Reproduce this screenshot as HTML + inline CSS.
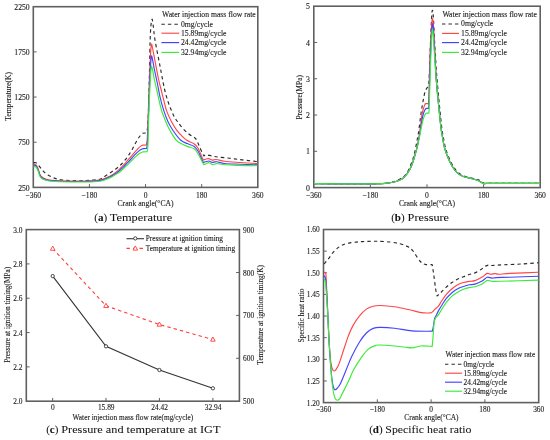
<!DOCTYPE html>
<html><head><meta charset="utf-8"><style>
html,body{margin:0;padding:0;background:#fff;}
svg{display:block;will-change:transform;filter:blur(0.3px);}
text{font-family:"Liberation Serif",serif;stroke:#222;stroke-width:0.14px;}
</style></head><body>
<svg width="550" height="440" viewBox="0 0 550 440">
<rect width="550" height="440" fill="#fff"/>
<rect x="33.3" y="6.7" width="224.5" height="180.70000000000002" fill="none" stroke="#606060" stroke-width="1.6"/>
<g transform="translate(29.70,190.50) scale(0.25)"><text x="0" y="0" font-size="30.80" text-anchor="end" fill="#222" style="stroke-width:0.44px" >250</text></g>
<line x1="33.3" y1="142.22" x2="36.599999999999994" y2="142.22" stroke="#606060" stroke-width="1"/>
<g transform="translate(29.70,145.32) scale(0.25)"><text x="0" y="0" font-size="30.80" text-anchor="end" fill="#222" style="stroke-width:0.44px" >750</text></g>
<line x1="33.3" y1="97.05" x2="36.599999999999994" y2="97.05" stroke="#606060" stroke-width="1"/>
<g transform="translate(29.70,100.15) scale(0.25)"><text x="0" y="0" font-size="30.80" text-anchor="end" fill="#222" style="stroke-width:0.44px" >1250</text></g>
<line x1="33.3" y1="51.88" x2="36.599999999999994" y2="51.88" stroke="#606060" stroke-width="1"/>
<g transform="translate(29.70,54.98) scale(0.25)"><text x="0" y="0" font-size="30.80" text-anchor="end" fill="#222" style="stroke-width:0.44px" >1750</text></g>
<g transform="translate(29.70,9.80) scale(0.25)"><text x="0" y="0" font-size="30.80" text-anchor="end" fill="#222" style="stroke-width:0.44px" >2250</text></g>
<g transform="translate(33.30,198.00) scale(0.25)"><text x="0" y="0" font-size="30.40" text-anchor="middle" fill="#222" style="stroke-width:0.44px" >−360</text></g>
<line x1="89.42" y1="187.4" x2="89.42" y2="184.1" stroke="#606060" stroke-width="1"/>
<g transform="translate(89.42,198.00) scale(0.25)"><text x="0" y="0" font-size="30.40" text-anchor="middle" fill="#222" style="stroke-width:0.44px" >−180</text></g>
<line x1="145.55" y1="187.4" x2="145.55" y2="184.1" stroke="#606060" stroke-width="1"/>
<g transform="translate(145.55,198.00) scale(0.25)"><text x="0" y="0" font-size="30.40" text-anchor="middle" fill="#222" style="stroke-width:0.44px" >0</text></g>
<line x1="201.68" y1="187.4" x2="201.68" y2="184.1" stroke="#606060" stroke-width="1"/>
<g transform="translate(201.68,198.00) scale(0.25)"><text x="0" y="0" font-size="30.40" text-anchor="middle" fill="#222" style="stroke-width:0.44px" >180</text></g>
<g transform="translate(257.80,198.00) scale(0.25)"><text x="0" y="0" font-size="30.40" text-anchor="middle" fill="#222" style="stroke-width:0.44px" >360</text></g>
<g transform="translate(145.55,206.00) scale(0.25)"><text x="0" y="0" font-size="30.80" text-anchor="middle" fill="#222" style="stroke-width:0.44px" >Crank angle(°CA)</text></g>
<g transform="translate(11.00,96.40) rotate(-90) scale(0.25)"><text x="0" y="0" font-size="30.40" text-anchor="middle" fill="#222" style="stroke-width:0.44px">Temperature(K)</text></g>
<path d="M33.50,162.60 C33.92,162.63 35.17,162.37 36.00,162.80 C36.83,163.23 37.33,163.87 38.50,165.20 C39.67,166.53 41.42,169.17 43.00,170.80 C44.58,172.43 46.00,173.73 48.00,175.00 C50.00,176.27 52.67,177.57 55.00,178.40 C57.33,179.23 59.17,179.63 62.00,180.00 C64.83,180.37 68.17,180.50 72.00,180.60 C75.83,180.70 80.33,180.83 85.00,180.60 C89.67,180.37 96.67,179.93 100.00,179.20 C103.33,178.47 103.10,177.40 105.00,176.20 C106.90,175.00 109.65,173.17 111.40,172.00 C113.15,170.83 114.13,170.22 115.50,169.20 C116.87,168.18 118.35,167.03 119.60,165.90 C120.85,164.77 121.87,163.65 123.00,162.40 C124.13,161.15 125.40,159.70 126.40,158.40 C127.40,157.10 128.10,155.97 129.00,154.60 C129.90,153.23 130.88,151.80 131.80,150.20 C132.72,148.60 133.58,146.70 134.50,145.00 C135.42,143.30 136.38,141.50 137.30,140.00 C138.22,138.50 139.10,137.13 140.00,136.00 C140.90,134.87 142.25,133.67 142.70,133.20 L146.00,133.00 C146.25,132.17 147.08,131.83 147.50,128.00 C147.92,124.17 148.20,118.00 148.50,110.00 C148.80,102.00 149.05,90.83 149.30,80.00 C149.55,69.17 149.75,53.83 150.00,45.00 C150.25,36.17 150.47,31.28 150.80,27.00 C151.13,22.72 151.63,19.80 152.00,19.30 C152.37,18.80 152.50,20.55 153.00,24.00 C153.50,27.45 153.83,33.00 155.00,40.00 C156.17,47.00 158.42,57.83 160.00,66.00 C161.58,74.17 163.17,83.08 164.50,89.00 C165.83,94.92 166.92,98.08 168.00,101.50 C169.08,104.92 170.00,107.05 171.00,109.50 C172.00,111.95 172.95,114.23 174.00,116.20 C175.05,118.17 175.85,119.28 177.30,121.30 C178.75,123.32 180.67,126.10 182.70,128.30 C184.73,130.50 187.37,132.80 189.50,134.50 C191.63,136.20 193.92,136.67 195.50,138.50 C197.08,140.33 197.83,143.00 199.00,145.50 C200.17,148.00 201.67,151.75 202.50,153.50 C203.33,155.25 203.75,155.58 204.00,156.00 C204.37,155.80 204.87,154.80 206.20,154.80 C207.53,154.80 209.93,155.62 212.00,156.00 C214.07,156.38 215.52,156.72 218.60,157.10 C221.68,157.48 226.55,157.83 230.50,158.30 C234.45,158.77 237.80,159.35 242.30,159.90 C246.80,160.45 254.97,161.32 257.50,161.60" fill="none" stroke="#2a2a2a" stroke-width="1.15" stroke-linejoin="round" stroke-dasharray="3.4 3.1"/>
<path d="M33.50,164.00 C33.92,164.17 35.25,164.25 36.00,165.00 C36.75,165.75 37.33,166.92 38.00,168.50 C38.67,170.08 39.33,173.08 40.00,174.50 C40.67,175.92 41.17,176.28 42.00,177.00 C42.83,177.72 43.67,178.30 45.00,178.80 C46.33,179.30 47.50,179.68 50.00,180.00 C52.50,180.32 54.17,180.53 60.00,180.70 C65.83,180.87 78.33,181.10 85.00,181.00 C91.67,180.90 96.07,180.80 100.00,180.10 C103.93,179.40 106.43,177.75 108.60,176.80 C110.77,175.85 111.40,175.47 113.00,174.40 C114.60,173.33 116.70,171.70 118.20,170.40 C119.70,169.10 120.63,168.03 122.00,166.60 C123.37,165.17 125.07,163.30 126.40,161.80 C127.73,160.30 128.63,159.18 130.00,157.60 C131.37,156.02 133.27,153.80 134.60,152.30 C135.93,150.80 137.02,149.58 138.00,148.60 C138.98,147.62 139.67,146.98 140.50,146.40 C141.33,145.82 142.58,145.32 143.00,145.10 L146.40,144.90 C146.55,143.75 147.00,142.98 147.30,138.00 C147.60,133.02 147.85,124.67 148.20,115.00 C148.55,105.33 149.02,90.00 149.40,80.00 C149.78,70.00 150.17,60.95 150.50,55.00 C150.83,49.05 151.07,45.47 151.40,44.30 C151.73,43.13 151.90,45.22 152.50,48.00 C153.10,50.78 153.98,55.75 155.00,61.00 C156.02,66.25 157.57,74.67 158.60,79.50 C159.63,84.33 160.30,86.38 161.20,90.00 C162.10,93.62 163.07,97.63 164.00,101.20 C164.93,104.77 165.57,108.02 166.80,111.40 C168.03,114.78 169.70,118.30 171.40,121.50 C173.10,124.70 175.07,128.02 177.00,130.60 C178.93,133.18 181.28,135.33 183.00,137.00 C184.72,138.67 185.53,139.50 187.30,140.60 C189.07,141.70 191.88,142.45 193.60,143.60 C195.32,144.75 196.45,145.85 197.60,147.50 C198.75,149.15 199.68,151.67 200.50,153.50 C201.32,155.33 201.98,157.42 202.50,158.50 C203.02,159.58 203.42,159.75 203.60,160.00 C203.92,159.88 204.67,159.53 205.50,159.30 C206.33,159.07 207.50,158.47 208.60,158.60 C209.70,158.73 210.82,159.95 212.10,160.10 C213.38,160.25 214.22,159.30 216.30,159.50 C218.38,159.70 220.65,160.80 224.60,161.30 C228.55,161.80 234.52,162.12 240.00,162.50 C245.48,162.88 254.58,163.42 257.50,163.60" fill="none" stroke="#ff4646" stroke-width="1.15" stroke-linejoin="round"/>
<path d="M33.50,165.00 C33.92,165.17 35.25,165.25 36.00,166.00 C36.75,166.75 37.33,167.92 38.00,169.50 C38.67,171.08 39.25,174.05 40.00,175.50 C40.75,176.95 41.50,177.48 42.50,178.20 C43.50,178.92 44.75,179.40 46.00,179.80 C47.25,180.20 47.67,180.37 50.00,180.60 C52.33,180.83 54.17,181.05 60.00,181.20 C65.83,181.35 78.33,181.60 85.00,181.50 C91.67,181.40 96.07,181.27 100.00,180.60 C103.93,179.93 106.35,178.43 108.60,177.50 C110.85,176.57 111.80,176.03 113.50,175.00 C115.20,173.97 117.25,172.53 118.80,171.30 C120.35,170.07 121.43,168.95 122.80,167.60 C124.17,166.25 125.63,164.63 127.00,163.20 C128.37,161.77 129.63,160.47 131.00,159.00 C132.37,157.53 133.87,155.75 135.20,154.40 C136.53,153.05 137.87,151.80 139.00,150.90 C140.13,150.00 141.17,149.38 142.00,149.00 C142.83,148.62 143.67,148.67 144.00,148.60 L146.60,148.50 C146.75,147.42 147.20,147.08 147.50,142.00 C147.80,136.92 148.05,127.50 148.40,118.00 C148.75,108.50 149.23,93.83 149.60,85.00 C149.97,76.17 150.30,69.83 150.60,65.00 C150.90,60.17 151.10,57.00 151.40,56.00 C151.70,55.00 151.88,56.67 152.40,59.00 C152.92,61.33 153.65,65.83 154.50,70.00 C155.35,74.17 156.58,79.53 157.50,84.00 C158.42,88.47 159.02,92.58 160.00,96.80 C160.98,101.02 162.07,105.13 163.40,109.30 C164.73,113.47 166.40,118.27 168.00,121.80 C169.60,125.33 170.92,127.47 173.00,130.50 C175.08,133.53 178.12,137.82 180.50,140.00 C182.88,142.18 185.05,142.55 187.30,143.60 C189.55,144.65 192.22,145.07 194.00,146.30 C195.78,147.53 196.83,149.13 198.00,151.00 C199.17,152.87 200.08,155.58 201.00,157.50 C201.92,159.42 203.08,161.67 203.50,162.50 C203.83,162.38 204.58,162.05 205.50,161.80 C206.42,161.55 207.85,160.90 209.00,161.00 C210.15,161.10 211.13,162.28 212.40,162.40 C213.67,162.52 214.57,161.52 216.60,161.70 C218.63,161.88 220.70,163.08 224.60,163.50 C228.50,163.92 234.52,163.98 240.00,164.20 C245.48,164.42 254.58,164.70 257.50,164.80" fill="none" stroke="#4444ff" stroke-width="1.15" stroke-linejoin="round"/>
<path d="M33.50,166.20 C33.92,166.37 35.25,166.48 36.00,167.20 C36.75,167.92 37.33,168.95 38.00,170.50 C38.67,172.05 39.17,175.03 40.00,176.50 C40.83,177.97 41.33,178.55 43.00,179.30 C44.67,180.05 47.17,180.60 50.00,181.00 C52.83,181.40 54.17,181.53 60.00,181.70 C65.83,181.87 78.33,182.08 85.00,182.00 C91.67,181.92 96.07,181.80 100.00,181.20 C103.93,180.60 106.27,179.33 108.60,178.40 C110.93,177.47 112.17,176.65 114.00,175.60 C115.83,174.55 118.02,173.28 119.60,172.10 C121.18,170.92 122.15,169.75 123.50,168.50 C124.85,167.25 126.32,165.93 127.70,164.60 C129.08,163.27 130.43,161.87 131.80,160.50 C133.17,159.13 134.77,157.48 135.90,156.40 C137.03,155.32 137.68,154.67 138.60,154.00 C139.52,153.33 140.67,152.75 141.40,152.40 C142.13,152.05 142.73,151.98 143.00,151.90 L147.00,151.80 C147.15,150.83 147.63,151.30 147.90,146.00 C148.17,140.70 148.28,129.33 148.60,120.00 C148.92,110.67 149.45,97.67 149.80,90.00 C150.15,82.33 150.43,77.93 150.70,74.00 C150.97,70.07 151.12,67.23 151.40,66.40 C151.68,65.57 151.88,66.73 152.40,69.00 C152.92,71.27 153.73,76.33 154.50,80.00 C155.27,83.67 156.08,86.92 157.00,91.00 C157.92,95.08 159.12,100.88 160.00,104.50 C160.88,108.12 161.17,109.45 162.30,112.70 C163.43,115.95 165.52,121.03 166.80,124.00 C168.08,126.97 168.48,127.87 170.00,130.50 C171.52,133.13 174.07,137.63 175.90,139.80 C177.73,141.97 179.10,142.40 181.00,143.50 C182.90,144.60 185.05,145.48 187.30,146.40 C189.55,147.32 192.55,147.48 194.50,149.00 C196.45,150.52 197.75,153.42 199.00,155.50 C200.25,157.58 201.20,159.98 202.00,161.50 C202.80,163.02 203.50,164.08 203.80,164.60 C204.17,164.47 205.13,164.12 206.00,163.80 C206.87,163.48 207.88,162.57 209.00,162.70 C210.12,162.83 211.38,164.45 212.70,164.60 C214.02,164.75 214.85,163.57 216.90,163.60 C218.95,163.63 221.15,164.50 225.00,164.80 C228.85,165.10 234.58,165.23 240.00,165.40 C245.42,165.57 254.58,165.73 257.50,165.80" fill="none" stroke="#38ec38" stroke-width="1.15" stroke-linejoin="round"/>
<g transform="translate(162.00,17.30) scale(0.25)"><text x="0" y="0" font-size="30.80" text-anchor="start" fill="#222" style="stroke-width:0.44px" >Water injection mass flow rate</text></g>
<line x1="161.4" y1="24.2" x2="179.2" y2="24.2" stroke="#2a2a2a" stroke-width="1.15" stroke-dasharray="3.4 3.1"/>
<g transform="translate(181.00,26.50) scale(0.25)"><text x="0" y="0" font-size="30.80" text-anchor="start" fill="#222" style="stroke-width:0.44px" >0mg/cycle</text></g>
<line x1="161.4" y1="33.2" x2="179.2" y2="33.2" stroke="#ff4646" stroke-width="1.15"/>
<g transform="translate(181.00,35.50) scale(0.25)"><text x="0" y="0" font-size="30.80" text-anchor="start" fill="#222" style="stroke-width:0.44px" >15.89mg/cycle</text></g>
<line x1="161.4" y1="42.6" x2="179.2" y2="42.6" stroke="#4444ff" stroke-width="1.15"/>
<g transform="translate(181.00,44.90) scale(0.25)"><text x="0" y="0" font-size="30.80" text-anchor="start" fill="#222" style="stroke-width:0.44px" >24.42mg/cycle</text></g>
<line x1="161.4" y1="52.4" x2="179.2" y2="52.4" stroke="#38ec38" stroke-width="1.15"/>
<g transform="translate(181.00,54.70) scale(0.25)"><text x="0" y="0" font-size="30.80" text-anchor="start" fill="#222" style="stroke-width:0.44px" >32.94mg/cycle</text></g>
<rect x="313.8" y="6.2" width="226.40000000000003" height="181.4" fill="none" stroke="#606060" stroke-width="1.6"/>
<g transform="translate(310.00,190.70) scale(0.25)"><text x="0" y="0" font-size="31.20" text-anchor="end" fill="#222" style="stroke-width:0.44px" >0</text></g>
<line x1="313.8" y1="151.32" x2="317.1" y2="151.32" stroke="#606060" stroke-width="1"/>
<g transform="translate(310.00,154.42) scale(0.25)"><text x="0" y="0" font-size="31.20" text-anchor="end" fill="#222" style="stroke-width:0.44px" >1</text></g>
<line x1="313.8" y1="115.04" x2="317.1" y2="115.04" stroke="#606060" stroke-width="1"/>
<g transform="translate(310.00,118.14) scale(0.25)"><text x="0" y="0" font-size="31.20" text-anchor="end" fill="#222" style="stroke-width:0.44px" >2</text></g>
<line x1="313.8" y1="78.76" x2="317.1" y2="78.76" stroke="#606060" stroke-width="1"/>
<g transform="translate(310.00,81.86) scale(0.25)"><text x="0" y="0" font-size="31.20" text-anchor="end" fill="#222" style="stroke-width:0.44px" >3</text></g>
<line x1="313.8" y1="42.48" x2="317.1" y2="42.48" stroke="#606060" stroke-width="1"/>
<g transform="translate(310.00,45.58) scale(0.25)"><text x="0" y="0" font-size="31.20" text-anchor="end" fill="#222" style="stroke-width:0.44px" >4</text></g>
<g transform="translate(310.00,9.30) scale(0.25)"><text x="0" y="0" font-size="31.20" text-anchor="end" fill="#222" style="stroke-width:0.44px" >5</text></g>
<g transform="translate(313.80,198.20) scale(0.25)"><text x="0" y="0" font-size="30.40" text-anchor="middle" fill="#222" style="stroke-width:0.44px" >−360</text></g>
<line x1="370.40" y1="187.6" x2="370.40" y2="184.29999999999998" stroke="#606060" stroke-width="1"/>
<g transform="translate(370.40,198.20) scale(0.25)"><text x="0" y="0" font-size="30.40" text-anchor="middle" fill="#222" style="stroke-width:0.44px" >−180</text></g>
<line x1="427.00" y1="187.6" x2="427.00" y2="184.29999999999998" stroke="#606060" stroke-width="1"/>
<g transform="translate(427.00,198.20) scale(0.25)"><text x="0" y="0" font-size="30.40" text-anchor="middle" fill="#222" style="stroke-width:0.44px" >0</text></g>
<line x1="483.60" y1="187.6" x2="483.60" y2="184.29999999999998" stroke="#606060" stroke-width="1"/>
<g transform="translate(483.60,198.20) scale(0.25)"><text x="0" y="0" font-size="30.40" text-anchor="middle" fill="#222" style="stroke-width:0.44px" >180</text></g>
<g transform="translate(540.20,198.20) scale(0.25)"><text x="0" y="0" font-size="30.40" text-anchor="middle" fill="#222" style="stroke-width:0.44px" >360</text></g>
<g transform="translate(427.00,206.20) scale(0.25)"><text x="0" y="0" font-size="30.80" text-anchor="middle" fill="#222" style="stroke-width:0.44px" >Crank angle(°CA)</text></g>
<g transform="translate(302.20,97.30) rotate(-90) scale(0.25)"><text x="0" y="0" font-size="30.00" text-anchor="middle" fill="#222" style="stroke-width:0.44px">Pressure(MPa)</text></g>
<path d="M314.00,183.60 C318.33,183.65 330.67,183.85 340.00,183.90 C349.33,183.95 362.50,184.00 370.00,183.90 C377.50,183.80 380.83,183.72 385.00,183.30 C389.17,182.88 392.50,182.12 395.00,181.40 C397.50,180.68 398.40,179.92 400.00,179.00 C401.60,178.08 403.07,177.62 404.60,175.90 C406.13,174.18 407.92,171.25 409.20,168.70 C410.48,166.15 411.45,162.98 412.30,160.60 C413.15,158.22 413.72,156.62 414.30,154.40 C414.88,152.18 415.37,149.52 415.80,147.30 C416.23,145.08 416.55,142.98 416.90,141.10 C417.25,139.22 417.57,137.85 417.90,136.00 C418.23,134.15 418.48,133.00 418.90,130.00 C419.32,127.00 419.93,121.50 420.40,118.00 C420.87,114.50 421.20,112.12 421.70,109.00 C422.20,105.88 422.83,102.23 423.40,99.30 C423.97,96.37 424.53,93.25 425.10,91.40 C425.67,89.55 426.23,89.25 426.80,88.20 C427.37,87.15 428.08,87.30 428.50,85.10 C428.92,82.90 428.95,82.52 429.30,75.00 C429.65,67.48 430.22,49.50 430.60,40.00 C430.98,30.50 431.32,22.95 431.60,18.00 C431.88,13.05 432.02,10.63 432.30,10.30 C432.58,9.97 432.93,11.05 433.30,16.00 C433.67,20.95 434.05,31.83 434.50,40.00 C434.95,48.17 435.57,58.33 436.00,65.00 C436.43,71.67 436.53,73.33 437.10,80.00 C437.67,86.67 438.62,97.00 439.40,105.00 C440.18,113.00 441.18,122.83 441.80,128.00 C442.42,133.17 442.52,132.78 443.10,136.00 C443.68,139.22 444.43,143.93 445.30,147.30 C446.17,150.67 446.97,153.02 448.30,156.20 C449.63,159.38 451.72,163.73 453.30,166.40 C454.88,169.07 456.10,170.63 457.80,172.20 C459.50,173.77 461.42,174.88 463.50,175.80 C465.58,176.72 468.40,177.20 470.30,177.70 C472.20,178.20 473.57,178.43 474.90,178.80 C476.23,179.17 477.18,179.45 478.30,179.90 C479.42,180.35 480.60,180.93 481.60,181.50 C482.60,182.07 483.43,183.00 484.30,183.30 C485.17,183.60 484.18,183.28 486.80,183.30 C489.42,183.32 491.13,183.38 500.00,183.40 C508.87,183.42 533.33,183.40 540.00,183.40" fill="none" stroke="#2a2a2a" stroke-width="1.15" stroke-linejoin="round" stroke-dasharray="3.4 3.1"/>
<path d="M314.00,183.60 C318.33,183.65 330.67,183.85 340.00,183.90 C349.33,183.95 362.50,183.98 370.00,183.90 C377.50,183.82 380.83,183.75 385.00,183.40 C389.17,183.05 392.17,182.53 395.00,181.80 C397.83,181.07 400.17,180.10 402.00,179.00 C403.83,177.90 404.63,176.92 406.00,175.20 C407.37,173.48 409.13,170.65 410.20,168.70 C411.27,166.75 411.72,165.37 412.40,163.50 C413.08,161.63 413.70,159.50 414.30,157.50 C414.90,155.50 415.48,153.38 416.00,151.50 C416.52,149.62 416.80,149.20 417.40,146.20 C418.00,143.20 419.03,137.20 419.60,133.50 C420.17,129.80 420.40,127.23 420.80,124.00 C421.20,120.77 421.55,116.70 422.00,114.10 C422.45,111.50 423.02,110.02 423.50,108.40 C423.98,106.78 424.52,105.20 424.90,104.40 C425.28,103.60 425.65,103.73 425.80,103.60 L428.50,103.60 C428.57,102.33 428.65,104.10 428.90,96.00 C429.15,87.90 429.58,66.33 430.00,55.00 C430.42,43.67 431.02,34.03 431.40,28.00 C431.78,21.97 431.98,19.47 432.30,18.80 C432.62,18.13 432.90,19.13 433.30,24.00 C433.70,28.87 434.20,38.67 434.70,48.00 C435.20,57.33 435.65,70.50 436.30,80.00 C436.95,89.50 437.82,97.00 438.60,105.00 C439.38,113.00 440.38,122.83 441.00,128.00 C441.62,133.17 441.72,132.75 442.30,136.00 C442.88,139.25 443.63,144.08 444.50,147.50 C445.37,150.92 446.17,153.28 447.50,156.50 C448.83,159.72 450.92,164.12 452.50,166.80 C454.08,169.48 455.30,171.03 457.00,172.60 C458.70,174.17 460.62,175.28 462.70,176.20 C464.78,177.12 467.60,177.60 469.50,178.10 C471.40,178.60 472.77,178.83 474.10,179.20 C475.43,179.57 476.37,179.83 477.50,180.30 C478.63,180.77 479.85,181.45 480.90,182.00 C481.95,182.55 482.85,183.37 483.80,183.60 C484.75,183.83 483.90,183.43 486.60,183.40 C489.30,183.37 491.10,183.40 500.00,183.40 C508.90,183.40 533.33,183.40 540.00,183.40" fill="none" stroke="#ff4646" stroke-width="1.15" stroke-linejoin="round"/>
<path d="M314.00,183.60 C318.33,183.65 330.67,183.85 340.00,183.90 C349.33,183.95 362.50,183.98 370.00,183.90 C377.50,183.82 380.83,183.75 385.00,183.40 C389.17,183.05 392.17,182.53 395.00,181.80 C397.83,181.07 400.17,180.10 402.00,179.00 C403.83,177.90 404.63,176.92 406.00,175.20 C407.37,173.48 409.13,170.65 410.20,168.70 C411.27,166.75 411.72,165.37 412.40,163.50 C413.08,161.63 413.70,159.50 414.30,157.50 C414.90,155.50 415.48,153.38 416.00,151.50 C416.52,149.62 416.77,149.12 417.40,146.20 C418.03,143.28 419.18,137.45 419.80,134.00 C420.42,130.55 420.58,128.58 421.10,125.50 C421.62,122.42 422.32,118.00 422.90,115.50 C423.48,113.00 424.05,111.68 424.60,110.50 C425.15,109.32 425.93,108.75 426.20,108.40 L428.60,108.40 C428.68,107.00 428.82,108.07 429.10,100.00 C429.38,91.93 429.90,70.83 430.30,60.00 C430.70,49.17 431.17,40.97 431.50,35.00 C431.83,29.03 432.00,25.20 432.30,24.20 C432.60,23.20 432.92,24.37 433.30,29.00 C433.68,33.63 434.10,43.50 434.60,52.00 C435.10,60.50 435.63,71.17 436.30,80.00 C436.97,88.83 437.82,97.00 438.60,105.00 C439.38,113.00 440.38,122.83 441.00,128.00 C441.62,133.17 441.72,132.75 442.30,136.00 C442.88,139.25 443.63,144.08 444.50,147.50 C445.37,150.92 446.17,153.28 447.50,156.50 C448.83,159.72 450.92,164.12 452.50,166.80 C454.08,169.48 455.30,171.03 457.00,172.60 C458.70,174.17 460.62,175.28 462.70,176.20 C464.78,177.12 467.60,177.60 469.50,178.10 C471.40,178.60 472.77,178.83 474.10,179.20 C475.43,179.57 476.37,179.83 477.50,180.30 C478.63,180.77 479.85,181.45 480.90,182.00 C481.95,182.55 482.85,183.37 483.80,183.60 C484.75,183.83 483.90,183.43 486.60,183.40 C489.30,183.37 491.10,183.40 500.00,183.40 C508.90,183.40 533.33,183.40 540.00,183.40" fill="none" stroke="#4444ff" stroke-width="1.15" stroke-linejoin="round"/>
<path d="M314.00,183.60 C318.33,183.65 330.67,183.85 340.00,183.90 C349.33,183.95 362.50,183.98 370.00,183.90 C377.50,183.82 380.83,183.75 385.00,183.40 C389.17,183.05 392.17,182.53 395.00,181.80 C397.83,181.07 400.17,180.10 402.00,179.00 C403.83,177.90 404.63,176.92 406.00,175.20 C407.37,173.48 409.13,170.65 410.20,168.70 C411.27,166.75 411.72,165.37 412.40,163.50 C413.08,161.63 413.70,159.50 414.30,157.50 C414.90,155.50 415.48,153.38 416.00,151.50 C416.52,149.62 416.75,148.95 417.40,146.20 C418.05,143.45 419.25,138.12 419.90,135.00 C420.55,131.88 420.72,130.23 421.30,127.50 C421.88,124.77 422.77,120.78 423.40,118.60 C424.03,116.42 424.57,115.32 425.10,114.40 C425.63,113.48 426.35,113.32 426.60,113.10 L428.80,113.10 C428.88,111.75 429.02,113.02 429.30,105.00 C429.58,96.98 430.12,75.83 430.50,65.00 C430.88,54.17 431.30,45.83 431.60,40.00 C431.90,34.17 432.03,31.00 432.30,30.00 C432.57,29.00 432.83,29.83 433.20,34.00 C433.57,38.17 433.98,47.33 434.50,55.00 C435.02,62.67 435.62,71.67 436.30,80.00 C436.98,88.33 437.82,97.00 438.60,105.00 C439.38,113.00 440.38,122.83 441.00,128.00 C441.62,133.17 441.72,132.75 442.30,136.00 C442.88,139.25 443.63,144.08 444.50,147.50 C445.37,150.92 446.17,153.28 447.50,156.50 C448.83,159.72 450.92,164.12 452.50,166.80 C454.08,169.48 455.30,171.03 457.00,172.60 C458.70,174.17 460.62,175.28 462.70,176.20 C464.78,177.12 467.60,177.60 469.50,178.10 C471.40,178.60 472.77,178.83 474.10,179.20 C475.43,179.57 476.37,179.83 477.50,180.30 C478.63,180.77 479.85,181.45 480.90,182.00 C481.95,182.55 482.85,183.37 483.80,183.60 C484.75,183.83 483.90,183.43 486.60,183.40 C489.30,183.37 491.10,183.40 500.00,183.40 C508.90,183.40 533.33,183.40 540.00,183.40" fill="none" stroke="#38ec38" stroke-width="1.15" stroke-linejoin="round"/>
<g transform="translate(442.40,17.30) scale(0.25)"><text x="0" y="0" font-size="31.00" text-anchor="start" fill="#222" style="stroke-width:0.44px" >Water injection mass flow rate</text></g>
<line x1="442" y1="24.0" x2="459" y2="24.0" stroke="#2a2a2a" stroke-width="1.15" stroke-dasharray="3.4 3.1"/>
<g transform="translate(461.00,26.30) scale(0.25)"><text x="0" y="0" font-size="31.00" text-anchor="start" fill="#222" style="stroke-width:0.44px" >0mg/cycle</text></g>
<line x1="442" y1="33.4" x2="459" y2="33.4" stroke="#ff4646" stroke-width="1.15"/>
<g transform="translate(461.00,35.70) scale(0.25)"><text x="0" y="0" font-size="31.00" text-anchor="start" fill="#222" style="stroke-width:0.44px" >15.89mg/cycle</text></g>
<line x1="442" y1="42.6" x2="459" y2="42.6" stroke="#4444ff" stroke-width="1.15"/>
<g transform="translate(461.00,44.90) scale(0.25)"><text x="0" y="0" font-size="31.00" text-anchor="start" fill="#222" style="stroke-width:0.44px" >24.42mg/cycle</text></g>
<line x1="442" y1="52.4" x2="459" y2="52.4" stroke="#38ec38" stroke-width="1.15"/>
<g transform="translate(461.00,54.70) scale(0.25)"><text x="0" y="0" font-size="31.00" text-anchor="start" fill="#222" style="stroke-width:0.44px" >32.94mg/cycle</text></g>
<rect x="26.3" y="229.6" width="213.1" height="171.6" fill="none" stroke="#606060" stroke-width="1.6"/>
<g transform="translate(22.50,404.20) scale(0.25)"><text x="0" y="0" font-size="29.60" text-anchor="end" fill="#222" style="stroke-width:0.44px" >2.0</text></g>
<line x1="26.3" y1="366.88" x2="29.6" y2="366.88" stroke="#606060" stroke-width="1"/>
<g transform="translate(22.50,369.88) scale(0.25)"><text x="0" y="0" font-size="29.60" text-anchor="end" fill="#222" style="stroke-width:0.44px" >2.2</text></g>
<line x1="26.3" y1="332.56" x2="29.6" y2="332.56" stroke="#606060" stroke-width="1"/>
<g transform="translate(22.50,335.56) scale(0.25)"><text x="0" y="0" font-size="29.60" text-anchor="end" fill="#222" style="stroke-width:0.44px" >2.4</text></g>
<line x1="26.3" y1="298.24" x2="29.6" y2="298.24" stroke="#606060" stroke-width="1"/>
<g transform="translate(22.50,301.24) scale(0.25)"><text x="0" y="0" font-size="29.60" text-anchor="end" fill="#222" style="stroke-width:0.44px" >2.6</text></g>
<line x1="26.3" y1="263.92" x2="29.6" y2="263.92" stroke="#606060" stroke-width="1"/>
<g transform="translate(22.50,266.92) scale(0.25)"><text x="0" y="0" font-size="29.60" text-anchor="end" fill="#222" style="stroke-width:0.44px" >2.8</text></g>
<g transform="translate(22.50,232.60) scale(0.25)"><text x="0" y="0" font-size="29.60" text-anchor="end" fill="#222" style="stroke-width:0.44px" >3.0</text></g>
<g transform="translate(243.00,404.20) scale(0.25)"><text x="0" y="0" font-size="29.60" text-anchor="start" fill="#222" style="stroke-width:0.44px" >500</text></g>
<line x1="239.4" y1="358.30" x2="236.1" y2="358.30" stroke="#606060" stroke-width="1"/>
<g transform="translate(243.00,361.30) scale(0.25)"><text x="0" y="0" font-size="29.60" text-anchor="start" fill="#222" style="stroke-width:0.44px" >600</text></g>
<line x1="239.4" y1="315.40" x2="236.1" y2="315.40" stroke="#606060" stroke-width="1"/>
<g transform="translate(243.00,318.40) scale(0.25)"><text x="0" y="0" font-size="29.60" text-anchor="start" fill="#222" style="stroke-width:0.44px" >700</text></g>
<line x1="239.4" y1="272.50" x2="236.1" y2="272.50" stroke="#606060" stroke-width="1"/>
<g transform="translate(243.00,275.50) scale(0.25)"><text x="0" y="0" font-size="29.60" text-anchor="start" fill="#222" style="stroke-width:0.44px" >800</text></g>
<g transform="translate(243.00,232.60) scale(0.25)"><text x="0" y="0" font-size="29.60" text-anchor="start" fill="#222" style="stroke-width:0.44px" >900</text></g>
<line x1="52.7" y1="401.2" x2="52.7" y2="397.9" stroke="#606060" stroke-width="1"/>
<g transform="translate(52.90,410.00) scale(0.25)"><text x="0" y="0" font-size="29.60" text-anchor="middle" fill="#222" style="stroke-width:0.44px" >0</text></g>
<line x1="106" y1="401.2" x2="106" y2="397.9" stroke="#606060" stroke-width="1"/>
<g transform="translate(106.20,410.00) scale(0.25)"><text x="0" y="0" font-size="29.60" text-anchor="middle" fill="#222" style="stroke-width:0.44px" >15.89</text></g>
<line x1="159.4" y1="401.2" x2="159.4" y2="397.9" stroke="#606060" stroke-width="1"/>
<g transform="translate(159.60,410.00) scale(0.25)"><text x="0" y="0" font-size="29.60" text-anchor="middle" fill="#222" style="stroke-width:0.44px" >24.42</text></g>
<line x1="212.9" y1="401.2" x2="212.9" y2="397.9" stroke="#606060" stroke-width="1"/>
<g transform="translate(213.10,410.00) scale(0.25)"><text x="0" y="0" font-size="29.60" text-anchor="middle" fill="#222" style="stroke-width:0.44px" >32.94</text></g>
<g transform="translate(132.85,420.00) scale(0.25)"><text x="0" y="0" font-size="29.20" text-anchor="middle" fill="#222" style="stroke-width:0.44px" >Water injection mass flow rate(mg/cycle)</text></g>
<g transform="translate(10.30,314.80) rotate(-90) scale(0.25)"><text x="0" y="0" font-size="29.20" text-anchor="middle" fill="#222" style="stroke-width:0.44px">Pressure at ignition timing(MPa)</text></g>
<g transform="translate(262.80,314.80) rotate(-90) scale(0.25)"><text x="0" y="0" font-size="29.20" text-anchor="middle" fill="#222" style="stroke-width:0.44px">Temperature at ignition timing(K)</text></g>
<polyline points="52.7,276.1 106,346.3 159.4,370 212.9,388.3" fill="none" stroke="#333" stroke-width="1.1"/>
<polyline points="52.7,248.6 106,305.8 159.4,324.5 212.9,339.5" fill="none" stroke="#ff3c3c" stroke-width="1.1" stroke-dasharray="3.4 3.1"/>
<circle cx="52.7" cy="276.1" r="1.65" fill="#fff" stroke="#333" stroke-width="0.9"/>
<circle cx="106" cy="346.3" r="1.65" fill="#fff" stroke="#333" stroke-width="0.9"/>
<circle cx="159.4" cy="370" r="1.65" fill="#fff" stroke="#333" stroke-width="0.9"/>
<circle cx="212.9" cy="388.3" r="1.65" fill="#fff" stroke="#333" stroke-width="0.9"/>
<path d="M52.70,246.08 L55.00,250.28 L50.40,250.28 Z" fill="#fff" stroke="#ff3c3c" stroke-width="0.9"/>
<path d="M106.00,303.28 L108.30,307.48 L103.70,307.48 Z" fill="#fff" stroke="#ff3c3c" stroke-width="0.9"/>
<path d="M159.40,321.98 L161.70,326.18 L157.10,326.18 Z" fill="#fff" stroke="#ff3c3c" stroke-width="0.9"/>
<path d="M212.90,336.98 L215.20,341.18 L210.60,341.18 Z" fill="#fff" stroke="#ff3c3c" stroke-width="0.9"/>
<line x1="126.5" y1="238.7" x2="144" y2="238.7" stroke="#333" stroke-width="1.1"/>
<circle cx="135.3" cy="238.4" r="1.65" fill="#fff" stroke="#333" stroke-width="0.9"/>
<line x1="126.5" y1="248.4" x2="144" y2="248.4" stroke="#ff3c3c" stroke-width="1.1" stroke-dasharray="3.4 3.1"/>
<path d="M135.30,245.88 L137.60,250.08 L133.00,250.08 Z" fill="#fff" stroke="#ff3c3c" stroke-width="0.9"/>
<g transform="translate(145.80,241.10) scale(0.25)"><text x="0" y="0" font-size="29.20" text-anchor="start" fill="#222" style="stroke-width:0.44px" >Pressure at ignition timing</text></g>
<g transform="translate(145.80,251.10) scale(0.25)"><text x="0" y="0" font-size="29.20" text-anchor="start" fill="#222" style="stroke-width:0.44px" >Temperature at ignition timing</text></g>
<rect x="323.5" y="229.5" width="215.20000000000005" height="173.10000000000002" fill="none" stroke="#606060" stroke-width="1.6"/>
<g transform="translate(319.70,405.50) scale(0.25)"><text x="0" y="0" font-size="29.60" text-anchor="end" fill="#222" style="stroke-width:0.44px" >1.20</text></g>
<line x1="323.5" y1="380.96" x2="326.8" y2="380.96" stroke="#606060" stroke-width="1"/>
<g transform="translate(319.70,383.86) scale(0.25)"><text x="0" y="0" font-size="29.60" text-anchor="end" fill="#222" style="stroke-width:0.44px" >1.25</text></g>
<line x1="323.5" y1="359.33" x2="326.8" y2="359.33" stroke="#606060" stroke-width="1"/>
<g transform="translate(319.70,362.23) scale(0.25)"><text x="0" y="0" font-size="29.60" text-anchor="end" fill="#222" style="stroke-width:0.44px" >1.30</text></g>
<line x1="323.5" y1="337.69" x2="326.8" y2="337.69" stroke="#606060" stroke-width="1"/>
<g transform="translate(319.70,340.59) scale(0.25)"><text x="0" y="0" font-size="29.60" text-anchor="end" fill="#222" style="stroke-width:0.44px" >1.35</text></g>
<line x1="323.5" y1="316.05" x2="326.8" y2="316.05" stroke="#606060" stroke-width="1"/>
<g transform="translate(319.70,318.95) scale(0.25)"><text x="0" y="0" font-size="29.60" text-anchor="end" fill="#222" style="stroke-width:0.44px" >1.40</text></g>
<line x1="323.5" y1="294.41" x2="326.8" y2="294.41" stroke="#606060" stroke-width="1"/>
<g transform="translate(319.70,297.31) scale(0.25)"><text x="0" y="0" font-size="29.60" text-anchor="end" fill="#222" style="stroke-width:0.44px" >1.45</text></g>
<line x1="323.5" y1="272.77" x2="326.8" y2="272.77" stroke="#606060" stroke-width="1"/>
<g transform="translate(319.70,275.67) scale(0.25)"><text x="0" y="0" font-size="29.60" text-anchor="end" fill="#222" style="stroke-width:0.44px" >1.50</text></g>
<line x1="323.5" y1="251.14" x2="326.8" y2="251.14" stroke="#606060" stroke-width="1"/>
<g transform="translate(319.70,254.04) scale(0.25)"><text x="0" y="0" font-size="29.60" text-anchor="end" fill="#222" style="stroke-width:0.44px" >1.55</text></g>
<g transform="translate(319.70,232.40) scale(0.25)"><text x="0" y="0" font-size="29.60" text-anchor="end" fill="#222" style="stroke-width:0.44px" >1.60</text></g>
<g transform="translate(323.50,412.30) scale(0.25)"><text x="0" y="0" font-size="29.60" text-anchor="middle" fill="#222" style="stroke-width:0.44px" >−360</text></g>
<line x1="377.30" y1="402.6" x2="377.30" y2="399.3" stroke="#606060" stroke-width="1"/>
<g transform="translate(377.30,412.30) scale(0.25)"><text x="0" y="0" font-size="29.60" text-anchor="middle" fill="#222" style="stroke-width:0.44px" >−180</text></g>
<line x1="431.10" y1="402.6" x2="431.10" y2="399.3" stroke="#606060" stroke-width="1"/>
<g transform="translate(431.10,412.30) scale(0.25)"><text x="0" y="0" font-size="29.60" text-anchor="middle" fill="#222" style="stroke-width:0.44px" >0</text></g>
<line x1="484.90" y1="402.6" x2="484.90" y2="399.3" stroke="#606060" stroke-width="1"/>
<g transform="translate(484.90,412.30) scale(0.25)"><text x="0" y="0" font-size="29.60" text-anchor="middle" fill="#222" style="stroke-width:0.44px" >180</text></g>
<g transform="translate(538.70,412.30) scale(0.25)"><text x="0" y="0" font-size="29.60" text-anchor="middle" fill="#222" style="stroke-width:0.44px" >360</text></g>
<g transform="translate(431.40,420.10) scale(0.25)"><text x="0" y="0" font-size="29.80" text-anchor="middle" fill="#222" style="stroke-width:0.44px" >Crank angle(°CA)</text></g>
<g transform="translate(303.80,315.50) rotate(-90) scale(0.25)"><text x="0" y="0" font-size="29.60" text-anchor="middle" fill="#222" style="stroke-width:0.44px">Specific heat ratio</text></g>
<path d="M324.20,264.00 C324.50,263.60 325.23,262.53 326.00,261.60 C326.77,260.67 327.72,259.82 328.80,258.40 C329.88,256.98 331.15,254.73 332.50,253.10 C333.85,251.47 335.23,249.95 336.90,248.60 C338.57,247.25 340.52,245.92 342.50,245.00 C344.48,244.08 346.50,243.58 348.80,243.10 C351.10,242.62 354.02,242.35 356.30,242.10 C358.58,241.85 360.22,241.73 362.50,241.60 C364.78,241.47 367.42,241.35 370.00,241.30 C372.58,241.25 374.67,241.18 378.00,241.30 C381.33,241.42 386.33,241.58 390.00,242.00 C393.67,242.42 397.00,243.00 400.00,243.80 C403.00,244.60 405.83,245.60 408.00,246.80 C410.17,248.00 411.33,249.05 413.00,251.00 C414.67,252.95 416.50,256.50 418.00,258.50 C419.50,260.50 420.67,261.98 422.00,263.00 C423.33,264.02 424.30,264.33 426.00,264.60 C427.70,264.87 431.17,264.60 432.20,264.60 C432.47,266.33 433.25,271.10 433.80,275.00 C434.35,278.90 434.97,284.50 435.50,288.00 C436.03,291.50 436.75,294.67 437.00,296.00 C437.62,295.45 439.13,294.20 440.70,292.70 C442.27,291.20 444.52,288.70 446.40,287.00 C448.28,285.30 450.12,283.82 452.00,282.50 C453.88,281.18 455.80,280.05 457.70,279.10 C459.60,278.15 461.50,277.57 463.40,276.80 C465.30,276.03 467.17,275.15 469.10,274.50 C471.03,273.85 473.02,273.73 475.00,272.90 C476.98,272.07 479.38,270.55 481.00,269.50 C482.62,268.45 483.48,267.33 484.70,266.60 C485.92,265.87 487.12,265.28 488.30,265.10 C489.48,264.92 489.25,265.55 491.80,265.50 C494.35,265.45 498.67,265.05 503.60,264.80 C508.53,264.55 515.58,264.33 521.40,264.00 C527.22,263.67 535.65,263.00 538.50,262.80" fill="none" stroke="#2a2a2a" stroke-width="1.15" stroke-linejoin="round" stroke-dasharray="3.4 3.1"/>
<path d="M324.00,272.40 L325.80,272.60 C325.92,274.67 326.27,280.43 326.50,285.00 C326.73,289.57 327.02,295.83 327.20,300.00 C327.38,304.17 327.42,305.83 327.60,310.00 C327.78,314.17 328.07,320.00 328.30,325.00 C328.53,330.00 328.67,334.50 329.00,340.00 C329.33,345.50 329.88,353.67 330.30,358.00 C330.72,362.33 331.05,363.97 331.50,366.00 C331.95,368.03 332.53,369.37 333.00,370.20 C333.47,371.03 333.80,371.10 334.30,371.00 C334.80,370.90 335.20,370.83 336.00,369.60 C336.80,368.37 337.83,366.87 339.10,363.60 C340.37,360.33 342.08,354.53 343.60,350.00 C345.12,345.47 346.68,340.38 348.20,336.40 C349.72,332.42 350.82,329.52 352.70,326.10 C354.58,322.68 357.22,318.73 359.50,315.90 C361.78,313.07 364.12,310.72 366.40,309.10 C368.68,307.48 370.93,306.80 373.20,306.20 C375.47,305.60 376.45,305.40 380.00,305.50 C383.55,305.60 389.62,306.08 394.50,306.80 C399.38,307.52 404.87,308.83 409.30,309.80 C413.73,310.77 417.98,312.07 421.10,312.60 C424.22,313.13 426.28,312.97 428.00,313.00 C429.72,313.03 430.83,312.83 431.40,312.80 C431.67,312.57 432.40,312.00 433.00,311.40 C433.60,310.80 434.10,310.07 435.00,309.20 C435.90,308.33 437.27,307.62 438.40,306.20 C439.53,304.78 440.47,302.67 441.80,300.70 C443.13,298.73 444.70,296.38 446.40,294.40 C448.10,292.42 450.12,290.40 452.00,288.80 C453.88,287.20 455.80,285.85 457.70,284.80 C459.60,283.75 461.50,283.07 463.40,282.50 C465.30,281.93 467.17,281.72 469.10,281.40 C471.03,281.08 472.82,281.33 475.00,280.60 C477.18,279.87 480.18,278.20 482.20,277.00 C484.22,275.80 485.70,273.87 487.10,273.40 C488.50,272.93 489.22,274.17 490.60,274.20 C491.98,274.23 494.02,273.60 495.40,273.60 C496.78,273.60 496.47,274.23 498.90,274.20 C501.33,274.17 503.40,273.73 510.00,273.40 C516.60,273.07 533.75,272.40 538.50,272.20" fill="none" stroke="#ff4646" stroke-width="1.15" stroke-linejoin="round"/>
<path d="M324.00,275.60 C324.27,276.17 325.17,276.27 325.60,279.00 C326.03,281.73 326.27,286.83 326.60,292.00 C326.93,297.17 327.20,302.00 327.60,310.00 C328.00,318.00 328.53,331.33 329.00,340.00 C329.47,348.67 329.98,356.17 330.40,362.00 C330.82,367.83 331.10,371.25 331.50,375.00 C331.90,378.75 332.38,382.20 332.80,384.50 C333.22,386.80 333.60,387.92 334.00,388.80 C334.40,389.68 334.70,389.85 335.20,389.80 C335.70,389.75 336.17,389.45 337.00,388.50 C337.83,387.55 338.72,387.10 340.20,384.10 C341.68,381.10 344.00,375.05 345.90,370.50 C347.80,365.95 349.33,361.55 351.60,356.80 C353.87,352.05 357.03,345.97 359.50,342.00 C361.97,338.03 364.12,335.27 366.40,333.00 C368.68,330.73 370.93,329.33 373.20,328.40 C375.47,327.47 376.45,327.43 380.00,327.40 C383.55,327.37 389.12,327.62 394.50,328.20 C399.88,328.78 405.98,330.40 412.30,330.90 C418.62,331.40 429.05,331.15 432.40,331.20 C432.60,330.17 433.23,327.12 433.60,325.00 C433.97,322.88 434.20,320.03 434.60,318.50 C435.00,316.97 435.77,316.25 436.00,315.80 C436.40,314.98 437.43,312.67 438.40,310.90 C439.37,309.13 440.47,307.28 441.80,305.20 C443.13,303.12 444.70,300.48 446.40,298.40 C448.10,296.32 450.12,294.30 452.00,292.70 C453.88,291.10 455.80,289.83 457.70,288.80 C459.60,287.77 461.50,287.17 463.40,286.50 C465.30,285.83 467.17,285.20 469.10,284.80 C471.03,284.40 472.82,284.73 475.00,284.10 C477.18,283.47 480.18,282.15 482.20,281.00 C484.22,279.85 485.50,277.68 487.10,277.20 C488.70,276.72 490.32,278.03 491.80,278.10 C493.28,278.17 492.97,277.75 496.00,277.60 C499.03,277.45 502.92,277.43 510.00,277.20 C517.08,276.97 533.75,276.37 538.50,276.20" fill="none" stroke="#4444ff" stroke-width="1.15" stroke-linejoin="round"/>
<path d="M324.00,278.20 C324.25,279.00 325.07,280.03 325.50,283.00 C325.93,285.97 326.25,291.17 326.60,296.00 C326.95,300.83 327.20,304.67 327.60,312.00 C328.00,319.33 328.53,331.67 329.00,340.00 C329.47,348.33 329.93,355.33 330.40,362.00 C330.87,368.67 331.32,375.08 331.80,380.00 C332.28,384.92 332.73,388.40 333.30,391.50 C333.87,394.60 334.52,397.15 335.20,398.60 C335.88,400.05 336.67,400.17 337.40,400.20 C338.13,400.23 338.75,399.97 339.60,398.80 C340.45,397.63 341.07,396.03 342.50,393.20 C343.93,390.37 346.30,385.78 348.20,381.80 C350.10,377.82 351.63,373.47 353.90,369.30 C356.17,365.13 359.35,360.20 361.80,356.80 C364.25,353.40 366.32,350.78 368.60,348.90 C370.88,347.02 373.60,346.15 375.50,345.50 C377.40,344.85 376.83,344.92 380.00,345.00 C383.17,345.08 390.50,345.67 394.50,346.00 C398.50,346.33 401.03,346.68 404.00,347.00 C406.97,347.32 409.45,348.07 412.30,347.90 C415.15,347.73 417.78,346.25 421.10,346.00 C424.42,345.75 430.35,346.33 432.20,346.40 C432.37,344.50 432.87,339.07 433.20,335.00 C433.53,330.93 433.75,324.92 434.20,322.00 C434.65,319.08 435.62,318.25 435.90,317.50 C436.32,317.07 437.42,316.28 438.40,314.90 C439.38,313.52 440.47,311.28 441.80,309.20 C443.13,307.12 444.70,304.58 446.40,302.40 C448.10,300.22 450.12,297.80 452.00,296.10 C453.88,294.40 455.80,293.33 457.70,292.20 C459.60,291.07 461.50,290.07 463.40,289.30 C465.30,288.53 467.17,288.02 469.10,287.60 C471.03,287.18 472.82,287.40 475.00,286.80 C477.18,286.20 480.18,285.05 482.20,284.00 C484.22,282.95 485.50,280.95 487.10,280.50 C488.70,280.05 489.65,281.17 491.80,281.30 C493.95,281.43 492.22,281.50 500.00,281.30 C507.78,281.10 532.08,280.30 538.50,280.10" fill="none" stroke="#38ec38" stroke-width="1.15" stroke-linejoin="round"/>
<g transform="translate(445.60,357.30) scale(0.25)"><text x="0" y="0" font-size="29.40" text-anchor="start" fill="#222" style="stroke-width:0.44px" >Water injection mass flow rate</text></g>
<line x1="445" y1="364.2" x2="462" y2="364.2" stroke="#2a2a2a" stroke-width="1.15" stroke-dasharray="3.4 3.1"/>
<g transform="translate(463.60,366.50) scale(0.25)"><text x="0" y="0" font-size="29.40" text-anchor="start" fill="#222" style="stroke-width:0.44px" >0mg/cycle</text></g>
<line x1="445" y1="373.2" x2="462" y2="373.2" stroke="#ff4646" stroke-width="1.15"/>
<g transform="translate(463.60,375.50) scale(0.25)"><text x="0" y="0" font-size="29.40" text-anchor="start" fill="#222" style="stroke-width:0.44px" >15.89mg/cycle</text></g>
<line x1="445" y1="382.2" x2="462" y2="382.2" stroke="#4444ff" stroke-width="1.15"/>
<g transform="translate(463.60,384.50) scale(0.25)"><text x="0" y="0" font-size="29.40" text-anchor="start" fill="#222" style="stroke-width:0.44px" >24.42mg/cycle</text></g>
<line x1="445" y1="391.2" x2="462" y2="391.2" stroke="#38ec38" stroke-width="1.15"/>
<g transform="translate(463.60,393.50) scale(0.25)"><text x="0" y="0" font-size="29.40" text-anchor="start" fill="#222" style="stroke-width:0.44px" >32.94mg/cycle</text></g>
<g transform="translate(94.3,220.9) scale(0.25)"><text x="0" y="0" font-size="44.0" fill="#111" style="stroke:#111;stroke-width:0.16px">(<tspan font-weight="bold">a</tspan>)</text></g>
<g transform="translate(109.7,220.9) scale(0.25)"><text x="0" y="0" font-size="44.0" fill="#111" style="stroke:#111;stroke-width:0.16px" textLength="250.0" lengthAdjust="spacingAndGlyphs">Temperature</text></g>
<g transform="translate(391.2,220.8) scale(0.25)"><text x="0" y="0" font-size="44.0" fill="#111" style="stroke:#111;stroke-width:0.16px">(<tspan font-weight="bold">b</tspan>)</text></g>
<g transform="translate(407.6,220.8) scale(0.25)"><text x="0" y="0" font-size="44.0" fill="#111" style="stroke:#111;stroke-width:0.16px" textLength="165.6" lengthAdjust="spacingAndGlyphs">Pressure</text></g>
<g transform="translate(46.2,433.2) scale(0.25)"><text x="0" y="0" font-size="44.0" fill="#111" style="stroke:#111;stroke-width:0.16px">(<tspan font-weight="bold">c</tspan>)</text></g>
<g transform="translate(61.3,433.2) scale(0.25)"><text x="0" y="0" font-size="44.0" fill="#111" style="stroke:#111;stroke-width:0.16px" textLength="636.4" lengthAdjust="spacingAndGlyphs">Pressure and temperature at IGT</text></g>
<g transform="translate(369.2,433.2) scale(0.25)"><text x="0" y="0" font-size="44.0" fill="#111" style="stroke:#111;stroke-width:0.16px">(<tspan font-weight="bold">d</tspan>)</text></g>
<g transform="translate(385.3,433.2) scale(0.25)"><text x="0" y="0" font-size="44.0" fill="#111" style="stroke:#111;stroke-width:0.16px" textLength="344.4" lengthAdjust="spacingAndGlyphs">Specific heat ratio</text></g>
</svg>
</body></html>
